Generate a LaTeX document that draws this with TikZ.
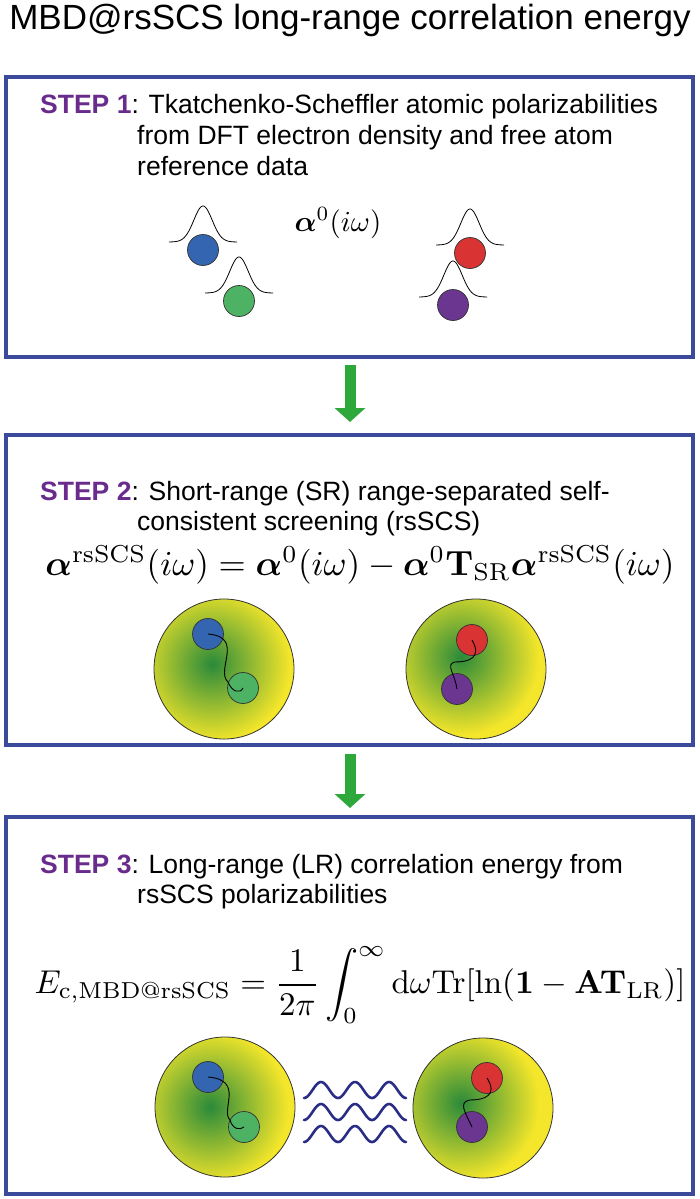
\documentclass[tikz,border=0pt]{standalone}
\usepackage{amsmath,bm}
\usepackage[no-math]{fontspec}
\setmainfont{Liberation Sans}
\usetikzlibrary{arrows.meta}
\definecolor{frame}{HTML}{3B4A9A}
\definecolor{stepc}{HTML}{6A2C8C}
\definecolor{cblue}{HTML}{3465B0}
\definecolor{cgreen}{HTML}{4DB263}
\definecolor{cred}{HTML}{D93333}
\definecolor{cpurple}{HTML}{6A3690}
\definecolor{arrg}{HTML}{2EA83A}
\definecolor{wave}{HTML}{2A2D85}
\definecolor{sy}{HTML}{F4E62A}
\definecolor{sg}{HTML}{2A8A3A}
\begin{document}
\begin{tikzpicture}[x=1pt,y=-1pt,
  box/.style={draw=frame,line width=3.5pt},
  txt/.style={anchor=base west,font=\fontsize{26.5}{31}\selectfont,inner sep=0},
  atom/.style={circle,draw=black!80,line width=0.7pt,minimum size=31pt,inner sep=0},
  gauss/.style={black,line width=0.8pt},
  spring/.style={black,line width=0.9pt},
  flow/.style={-{Triangle[length=14pt,width=30pt]},line width=11pt,arrg}]
\useasboundingbox (0,0) rectangle (700,1199);
\fill[white] (0,0) rectangle (700,1199);
\node[font=\fontsize{35}{40}\selectfont] (title) at (350,20) {MBD@rsSCS long-range correlation energy};
% boxes
\draw[box] (6,77) rectangle (693,357);
\draw[box] (6,435) rectangle (693,745);
\draw[box] (6,817) rectangle (693,1194);
\coordinate (a1s) at (350,365); \coordinate (a1e) at (350,422);
\coordinate (a2s) at (350,754); \coordinate (a2e) at (350,808);
\draw[flow] (a1s) -- (a1e);
\draw[flow] (a2s) -- (a2e);
% step 1
\node[txt] (s1a) at (40,113) {{\bfseries\color{stepc}STEP 1}: Tkatchenko-Scheffler atomic polarizabilities};
\node[txt] (s1b) at (137,144) {from DFT electron density and free atom};
\node[txt] (s1c) at (137,175) {reference data};
\node[scale=2.9] (al0) at (338,223) {$\bm{\alpha}^0(i\omega)$};
\foreach \cx/\cy/\c/\n in {203/250/cblue/A,239/301/cgreen/B,470/253/cred/C,453/305/cpurple/D}{
  \draw[gauss] plot[domain=-34:34,samples=60,smooth] ({\cx+\x},{\cy-8-36*exp(-(\x/13)^2)});
  \node[atom,fill=\c] (g\n) at (\cx,\cy) {};
}
% step 2
\node[txt] (s2a) at (40,500) {{\bfseries\color{stepc}STEP 2}: Short-range (SR) range-separated self-};
\node[txt] (s2b) at (137,530) {consistent screening (rsSCS)};
\node[scale=3.5,inner sep=0] (eq2) at (360,565) {$\bm{\alpha}^{\mathrm{rsSCS}}(i\omega)=\bm{\alpha}^0(i\omega)-\bm{\alpha}^0\mathbf{T}_{\mathrm{SR}}\bm{\alpha}^{\mathrm{rsSCS}}(i\omega)$};
% step 3
\node[txt] (s3a) at (40,873) {{\bfseries\color{stepc}STEP 3}: Long-range (LR) correlation energy from};
\node[txt] (s3b) at (137,903) {rsSCS polarizabilities};
\node[scale=3.3,inner sep=0] (eq3) at (360,985) {$E_{\mathrm{c,MBD@rsSCS}}=\dfrac{1}{2\pi}\displaystyle\int_0^\infty \mathrm{d}\omega\mathrm{Tr}[\ln(\mathbf{1}-\mathbf{A}\mathbf{T}_{\mathrm{LR}})]$};
% spheres
\foreach \cx/\cy/\dx/\dy/\n in {224/669/-12/-5/P,476/669/-15/-12/Q,225/1107/-15/0/R,483/1108/-22/-5/S}{
  \fill[sy] (\cx,\cy) circle (70);
  \begin{scope}
  \clip (\cx,\cy) circle (70);
  \shade[inner color=sg,outer color=sy] (\cx+\dx,\cy+\dy) circle (78);
  \end{scope}
  \draw[black!80,line width=0.8pt] (\cx,\cy) circle (70);
  \coordinate (sp\n) at (\cx,\cy);
}
\node[atom,fill=cblue] (p1) at (208,634) {};
\node[atom,fill=cgreen] (p2) at (243,688) {};
\node[atom,fill=cred] (q1) at (472,640) {};
\node[atom,fill=cpurple] (q2) at (457,689) {};
\draw[spring] (p1.center) .. controls (245,637) and (215,670) .. (228,682) .. controls (232,692) and (240,694) .. (p2.center);
\draw[spring] (q1.center) .. controls (482,657) and (470,662) .. (455,662) .. controls (445,664) and (455,674) .. (q2.center);
\node[atom,fill=cblue] (r1) at (208,1077) {};
\node[atom,fill=cgreen] (r2) at (244,1127) {};
\node[atom,fill=cred] (t1) at (487,1078) {};
\node[atom,fill=cpurple] (t2) at (472,1127) {};
\draw[spring] (r1.center) .. controls (245,1080) and (220,1110) .. (230,1120) .. controls (233,1130) and (240,1130) .. (r2.center);
\draw[spring] (t1.center) .. controls (498,1095) and (485,1100) .. (470,1100) .. controls (458,1102) and (465,1112) .. (t2.center);
% waves
\foreach \wy/\n in {1090/1,1112/2,1134/3}{
  \draw[wave,line width=2.6pt,line cap=round] plot[domain=0:102,samples=80,smooth] ({304+\x},{\wy+8*sin(\x/34*360+90)});
  \coordinate (w\n) at (355,\wy);
}
\end{tikzpicture}
\end{document}
